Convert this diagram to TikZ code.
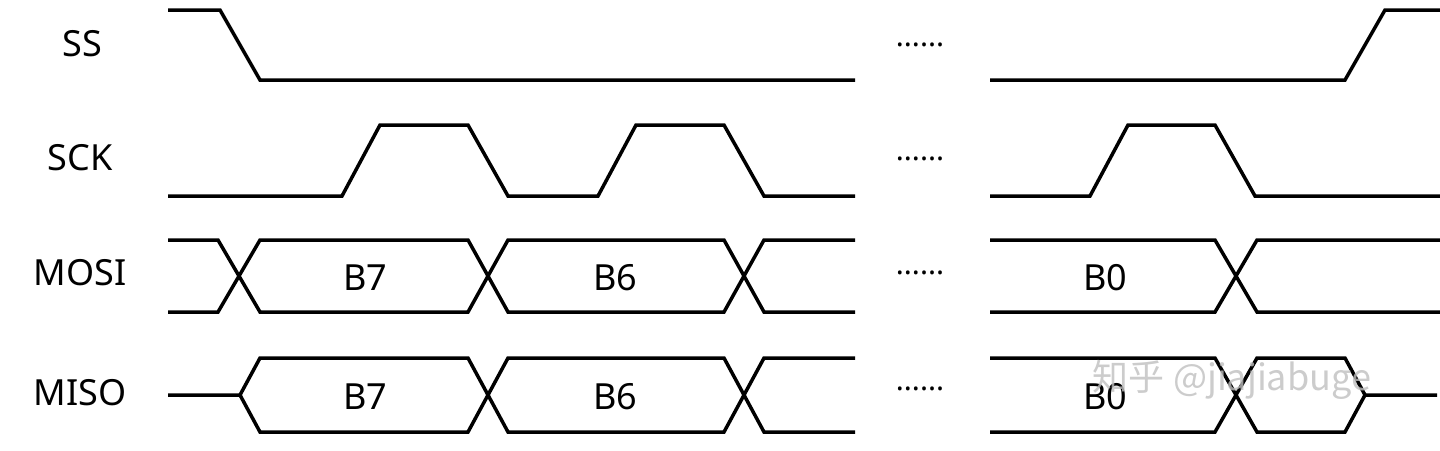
\documentclass[tikz,border=0pt]{standalone}
\usepackage{fontspec}
\setmainfont{Noto Sans}
\newfontfamily\cjk{Noto Sans CJK SC}
\begin{document}
\begin{tikzpicture}[x=1pt,y=-1pt,
  sig/.style={line width=3.5pt,line join=miter},
  lbl/.style={font=\fontsize{36}{40}\selectfont},
  dots/.style={font=\fontsize{30}{32}\selectfont\bfseries}]
\useasboundingbox (0,0) rectangle (1440,450);
% labels
\node[lbl] (lss) at (82,44) {SS};
\node[lbl] (lsck) at (80,158) {SCK};
\node[lbl] (lmosi) at (80,273) {MOSI};
\node[lbl] (lmiso) at (80,393) {MISO};
% SS
\draw[sig] (168,10) -- (220,10) -- (260,80) -- (855,80);
\draw[sig] (990,80) -- (1345,80) -- (1385,10) -- (1440,10);
% SCK
\draw[sig] (168,196) -- (342,196) -- (380,125) -- (468,125) -- (508,196) -- (598,196) -- (636,125) -- (724,125) -- (764,196) -- (855,196);
\draw[sig] (990,196) -- (1090,196) -- (1128,125) -- (1215,125) -- (1255,196) -- (1440,196);
% MOSI
\draw[sig] (168,240) -- (218,240) -- (260,312) -- (468,312) -- (508,240) -- (724,240) -- (764,312) -- (855,312);
\draw[sig] (168,312) -- (218,312) -- (260,240) -- (468,240) -- (508,312) -- (724,312) -- (764,240) -- (855,240);
\draw[sig] (990,240) -- (1215,240) -- (1257,312) -- (1440,312);
\draw[sig] (990,312) -- (1215,312) -- (1257,240) -- (1440,240);
% MISO
\draw[sig] (168,395) -- (240,395) -- (260,358) -- (468,358) -- (508,432) -- (724,432) -- (764,358) -- (855,358);
\draw[sig] (240,395) -- (260,432) -- (468,432) -- (508,358) -- (724,358) -- (764,432) -- (855,432);
\draw[sig] (990,358) -- (1215,358) -- (1257,432) -- (1345,432) -- (1365,395) -- (1437,395);
\draw[sig] (990,432) -- (1215,432) -- (1257,358) -- (1345,358) -- (1365,395);
% data labels
\node[lbl] (b7a) at (365,278) {B7};
\node[lbl] (b6a) at (615,278) {B6};
\node[lbl] (b0a) at (1105,278) {B0};
\node[lbl] (b7b) at (365,397) {B7};
\node[lbl] (b6b) at (615,397) {B6};
\node[lbl] (b0b) at (1105,397) {B0};
% dots
\foreach \y/\n in {44/d1,158/d2,272/d3,388/d4}{\node[dots] (\n) at (920,\y+1) {......};}
% watermark
\node[font=\fontsize{36}{40}\selectfont\cjk, text=black!25, opacity=0.8] (wm) at (1232,380) {知乎 @jiajiabuge};
\end{tikzpicture}
\end{document}
